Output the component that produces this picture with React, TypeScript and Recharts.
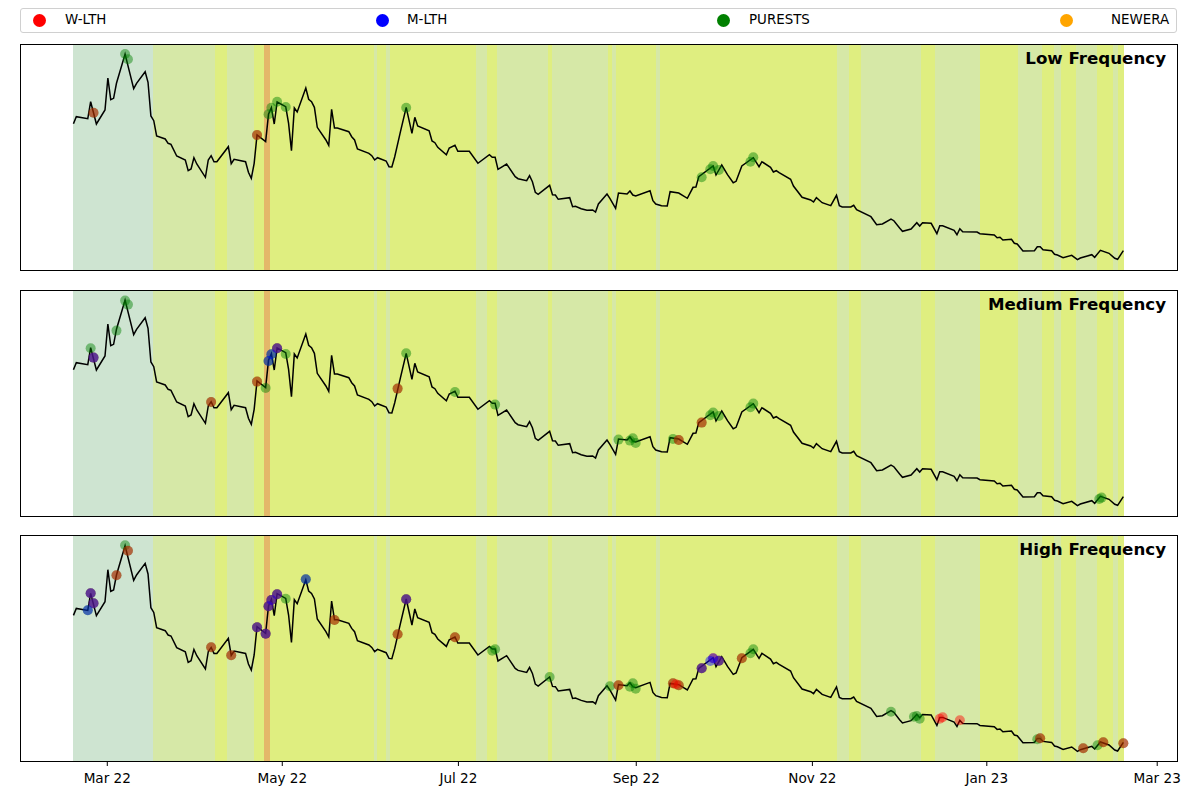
import React from 'react';
import { ComposedChart, Line, Scatter, XAxis, YAxis, ReferenceArea } from 'recharts';

// Days counted from 1 March 2022, and price level (arbitrary units, no scale shown)
const priceDays = [-12,-11,-7,-6,-4,-1,0,1,2,3,6,9,10,13,14,15,16,17,20,21,22,24,27,28,29,30,31,34,35,36,37,38,42,43,44,48,49,50,51,52,55,56,57,58,59,62,63,64,65,66,69,70,71,72,73,76,77,78,79,80,84,85,86,87,91,92,93,94,97,98,99,100,102,104,106,107,108,112,113,114,115,118,119,121,122,126,129,133,134,135,136,139,142,143,146,147,148,149,150,154,155,156,157,161,162,163,165,167,169,170,171,174,175,177,178,181,182,183,184,189,190,191,193,195,196,199,202,204,205,206,211,212,214,216,218,219,221,225,227,228,231,232,233,234,238,239,242,245,246,247,249,252,254,255,256,259,260,261,266,268,270,273,274,276,277,280,282,283,284,287,289,290,291,295,296,297,298,303,304,309,310,311,312,315,316,317,319,323,324,325,326,329,330,331,333,336,338,339,343,344,346,349,351,352,354];
const priceValues = [146.6,153.6,151.6,168.6,146.3,160.3,192.3,170.6,172,187,216.3,181.6,187,198.6,188,154.3,149.6,134.3,131.3,127,126,114.3,110.3,99.6,101.3,112.6,106.3,93,110.3,114.6,108.6,108.6,123.6,106.6,111,108.6,98,92,107,135.3,128.6,156,162.6,146.3,168.3,163.6,147,119.6,162.3,158.3,182.3,171,168.6,163,143,130.3,125,161,142.3,142.3,138.6,133.6,130.3,121.3,117,114.6,110.3,112.6,109.3,103.6,103.3,113.6,138.6,163,137,153,144.3,139.6,129.3,127.6,123,115.6,122.3,125,119,119,107,115.6,113,113,101,106.3,93.6,91.6,89.6,94.6,88.6,78,76,85,75.6,75.3,71,72.6,63.6,64,61.6,60,60.3,58.3,66.3,76.3,72,62,77.3,76.3,79.3,75.3,74.3,79.6,69.6,66.3,64.6,64.3,78.6,77.3,72,83,83.3,93.6,104.3,95.3,105.3,95.6,87.6,89,104.3,112.6,103.6,108.6,103,98.3,99.6,97.6,91,84.3,73,70.3,68.3,72.6,67.6,64.6,75,64.6,63.3,63.3,65,60.6,53.6,45.6,46.3,51.3,49.6,42.3,39,41.3,47.6,44.3,47.6,47,36.6,44.6,44.6,40,35.6,41.6,38.6,38.3,36.6,35.3,32.6,33,30.3,31,27,26.3,19.3,19.6,23.6,23.6,20.6,19.6,16,15.3,12.6,15,10.6,12.3,15.6,13,20,17,12,11,19.6];

// Regime bands: consecutive day edges and the regime between them
const bandEdges = [-12.3,15.6,37.5,41.5,50.8,54.6,56.4,92.9,93.7,97.1,98.5,128.5,132,135.5,153.3,154.7,174.5,175.9,177,191.2,192.3,254.3,258.2,262.4,283.3,288.2,304.2,317.4,325.7,329.9,332.4,337.6,344.9,350.5,352.2,354.3];
const bandRegimes = ['calm','mild','warm','mild','warm','hot','warm','mild','warm','mild','warm','mild','warm','mild','warm','mild','warm','mild','warm','mild','warm','mild','warm','mild','warm','mild','warm','mild','warm','mild','warm','mild','warm','mild','warm'];

const tickDays = [-0.2,60.8,122.2,184.2,245.6,306.4,365.8];
const tickLabels = ['Mar 22','May 22','Jul 22','Sep 22','Nov 22','Jan 23','Mar 23'];

const legendNames = ['W-LTH','M-LTH','PURESTS','NEWERA'];

// Signals per frequency panel: [day, price level]
const lowGreen = [[-5,157.6],[6,216.3],[7,211],[52,135.3],[56,156],[57,162.6],[59,168.6],[62,163.3],[104,162.6],[207,93],[210,101],[211,104.3],[213,100.3],[224,108.6],[225,113]];
const lowRed = [[-5,157.6],[52,135.3]];
const lowBlue: number[][] = [];

const midGreen = [[-6,168],[-5,158.7],[3,185.7],[6,215.7],[7,211.7],[36,114.3],[52,134.7],[55,128.3],[56,155.3],[57,162],[59,168],[62,162.3],[101,127.7],[104,163],[121,124.3],[135,111.7],[178,76.7],[182,75.7],[183,78],[184,73.3],[197,77.3],[199,76.3],[207,93.7],[210,101],[211,103.7],[213,100.3],[224,109],[225,112.7],[345.6,17.3],[346.4,18.7]];
const midRed = [[-5,158.7],[36,114.3],[52,134.7],[59,168],[101,127.7],[199,76.3],[207,93.7]];
const midBlue = [[-5,158.7],[56,155.3],[57,162],[59,168]];

const highGreen = [[-7,151.7],[-6,168.7],[-5,158.7],[3,186.7],[6,216.7],[7,211.3],[36,114.7],[43,106.7],[52,134.7],[55,128.3],[56,155.7],[57,162],[59,167.7],[62,163.3],[69,182.7],[79,142],[101,127.7],[104,162.7],[121,124.7],[134,111.3],[135,112.7],[154,85],[175,75.7],[178,76.7],[182,75.3],[183,78.7],[184,73.3],[197,78.7],[199,76.7],[207,93.7],[213,101.3],[221,103.7],[224,108.7],[225,112.7],[273,50.3],[281,45.3],[282,46],[283,43.3],[324,22.7],[325,23.7],[340,13.7],[345,16.7],[347,19.7],[354,18.7]];
const highRed = [[-6,168.7],[-5,158.7],[3,186.7],[7,211.3],[36,114.7],[43,106.7],[52,134.7],[55,128.3],[56,155.7],[57,162],[59,167.7],[79,142],[101,127.7],[104,162.7],[121,124.7],[178,76.7],[197,78.7],[198,77.7],[199,76.7],[207,93.7],[211,103.7],[213,101.3],[221,103.7],[290,43.3],[291,44.7],[297,41.7],[325,23.7],[340,13.7],[347,19.7],[354,18.7]];
const highBlue = [[-7,151.7],[-6,168.7],[-5,158.7],[52,134.7],[55,128.3],[56,155.7],[57,162],[59,167.7],[69,182.7],[104,162.7],[207,93.7],[210,101],[211,103.7],[213,101.3]];

const FONT = '"DejaVu Sans", sans-serif';
const REGIME_COLOR: Record<string, string> = { calm: '#cee4d1', mild: '#d6e8a7', warm: '#dfee80', hot: '#e4b76a' };
const MARK = { green: '#008000', red: '#ff0000', blue: '#0000ff' };
const LEGEND_COLORS = ['#ff0000', '#0000ff', '#008000', '#ffa500'];
const LEGEND_DOT_X = [39, 382, 723, 1066];
const LEGEND_TEXT_X = [65, 407, 749, 1111];

const priceData = priceDays.map((day, i) => ({ day, value: priceValues[i] }));
const toRows = (pairs: number[][]) => pairs.map(([day, value]) => ({ day, value }));

const PANEL_W = 1157;
const PANEL_H = 226;
const RIGHT_PAD = 23;
const X_DOMAIN: [number, number] = [-30.63, 372.7];

const marker = (color: string) => (p: any) => (
  <circle cx={p.cx} cy={p.cy} r={5} fill={color} fillOpacity={0.45} stroke="none" />
);

const bandShape = (color: string) => (p: any) => (
  <rect x={p.x} y={p.y} width={p.width} height={p.height} fill={color} stroke="none" shapeRendering="crispEdges" />
);

function Panel({ title, top, yDomain, green, red, blue, showAxis }: any) {
  const axisH = showAxis ? 38 : 0;
  return (
    <div style={{ position: 'absolute', left: 20, top, width: PANEL_W + RIGHT_PAD, height: PANEL_H + axisH }}>
      <ComposedChart width={PANEL_W + RIGHT_PAD} height={PANEL_H + axisH} data={priceData} margin={{ top: 0, right: RIGHT_PAD, bottom: 0, left: 0 }}>
        <XAxis
          dataKey="day"
          type="number"
          domain={X_DOMAIN}
          allowDataOverflow
          ticks={tickDays}
          interval={0}
          hide={!showAxis}
          height={axisH || 1}
          axisLine={false}
          tickLine={{ stroke: '#000', strokeWidth: 1 }}
          tickSize={5}
          tickMargin={7}
          tick={{ fill: '#000', fontSize: 13.6, fontFamily: FONT }}
          tickFormatter={(d: number) => tickLabels[tickDays.indexOf(d)]}
        />
        <YAxis dataKey="value" type="number" domain={yDomain} allowDataOverflow hide width={0} />
        {bandRegimes.map((r, i) => (
          <ReferenceArea key={i} x1={bandEdges[i]} x2={bandEdges[i + 1]} shape={bandShape(REGIME_COLOR[r])} />
        ))}
        {green.length > 0 && <Scatter data={toRows(green)} shape={marker(MARK.green)} isAnimationActive={false} />}
        {red.length > 0 && <Scatter data={toRows(red)} shape={marker(MARK.red)} isAnimationActive={false} />}
        {blue.length > 0 && <Scatter data={toRows(blue)} shape={marker(MARK.blue)} isAnimationActive={false} />}
        <Line dataKey="value" stroke="#000" strokeWidth={1.5} dot={false} activeDot={false} isAnimationActive={false} />
      </ComposedChart>
      <div style={{ position: 'absolute', left: 0, top: 0, width: PANEL_W + 1, height: PANEL_H + 1, boxSizing: 'border-box', border: '1px solid #000', pointerEvents: 'none' }} />
      <div style={{ position: 'absolute', left: 0, width: PANEL_W - 11, textAlign: 'right', top: 5, lineHeight: '20px', fontFamily: FONT, fontWeight: 'bold', fontSize: 16.67, color: '#000', whiteSpace: 'nowrap' }}>{title}</div>
    </div>
  );
}

export default function App() {
  return (
    <div style={{ position: 'absolute', left: 0, top: 0, width: 1200, height: 800, background: '#fff', overflow: 'hidden' }}>
      <div style={{ position: 'absolute', left: 20, top: 8, width: 1157, height: 25, boxSizing: 'border-box', border: '1px solid #d0d0d0', borderRadius: 3 }} />
      {legendNames.map((name, i) => (
        <React.Fragment key={name}>
          <div style={{ position: 'absolute', left: LEGEND_DOT_X[i] - 6.5, top: 13.5, width: 13, height: 13, borderRadius: '50%', background: LEGEND_COLORS[i] }} />
          <div style={{ position: 'absolute', left: LEGEND_TEXT_X[i], top: 10, lineHeight: '20px', fontFamily: FONT, fontSize: 13.4, color: '#000', whiteSpace: 'nowrap' }}>{name}</div>
        </React.Fragment>
      ))}
      <Panel title="Low Frequency" top={44} yDomain={[0.3, 226.3]} green={lowGreen} red={lowRed} blue={lowBlue} />
      <Panel title="Medium Frequency" top={290} yDomain={[0.3, 226.3]} green={midGreen} red={midRed} blue={midBlue} />
      <Panel title="High Frequency" top={535} yDomain={[1, 227]} green={highGreen} red={highRed} blue={highBlue} showAxis />
    </div>
  );
}
